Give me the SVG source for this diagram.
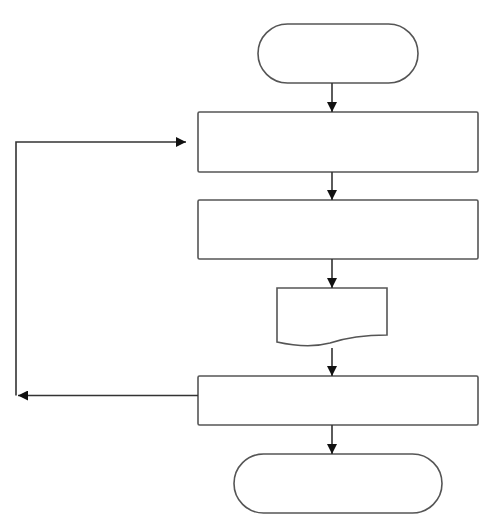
<svg xmlns="http://www.w3.org/2000/svg" width="499" height="523" viewBox="0 0 499 523">
<style>
.node{fill:#fff;stroke:#555;stroke-width:1.6}
.conn{fill:none;stroke:#333;stroke-width:1.6}
</style>
<defs>
<marker id="arr" viewBox="0 0 10 10" refX="10" refY="5" markerWidth="10" markerHeight="10" markerUnits="userSpaceOnUse" orient="auto">
<path d="M0,0 L10,5 L0,10 Z" fill="#111"/>
</marker>
</defs>
<rect width="499" height="523" fill="#fff"/>
<g id="start"><rect class="node" x="258" y="24" width="160" height="59" rx="29.5"/></g>
<g id="process1"><rect class="node" x="198" y="112" width="280" height="60" rx="1.5"/></g>
<g id="process2"><rect class="node" x="198" y="200" width="280" height="59" rx="1.5"/></g>
<g id="document"><path class="node" d="M277,288 H387 V335 C360,335 345,338 330,343 C315,347 295,346 277,342 Z"/></g>
<g id="process3"><rect class="node" x="198" y="376" width="280" height="49" rx="1.5"/></g>
<g id="end"><rect class="node" x="234" y="454" width="208" height="59" rx="29.5"/></g>
<g id="connectors">
<path class="conn" d="M332,83 V112" marker-end="url(#arr)"/>
<path class="conn" d="M332,172 V200" marker-end="url(#arr)"/>
<path class="conn" d="M332,259 V288" marker-end="url(#arr)"/>
<path class="conn" d="M332,348 V376" marker-end="url(#arr)"/>
<path class="conn" d="M332,425 V454" marker-end="url(#arr)"/>
<path class="conn" d="M198,395.5 H18" marker-end="url(#arr)"/>
<path class="conn" d="M16,395.5 V142 H186" marker-end="url(#arr)"/>
</g>
</svg>
